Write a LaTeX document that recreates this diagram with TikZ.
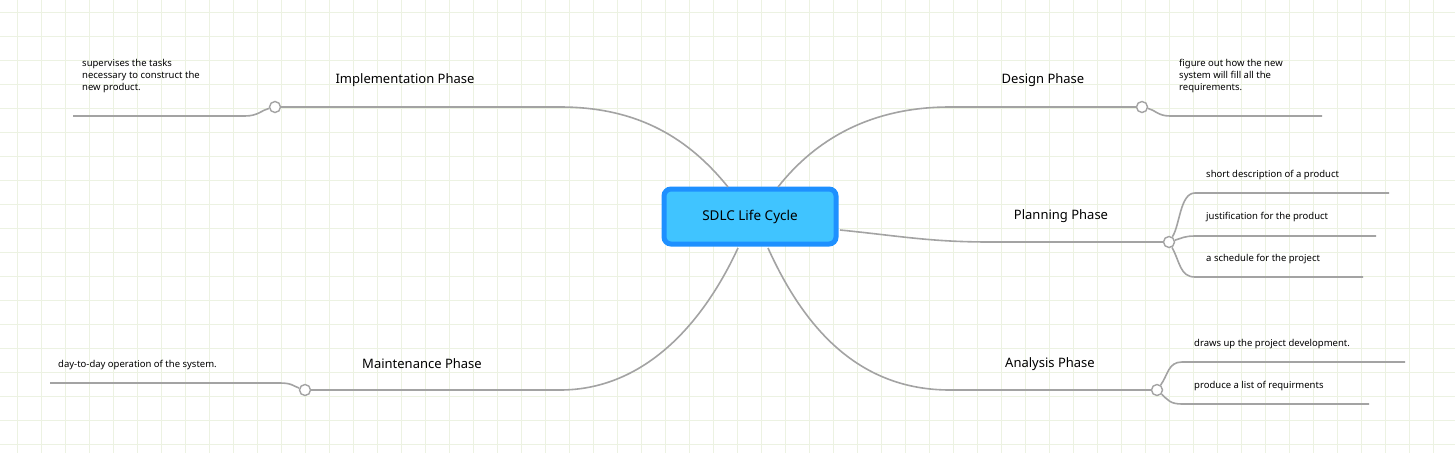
\documentclass[tikz,border=0pt]{standalone}
\usepackage{fontspec}
\setmainfont{Noto Sans}
\begin{document}
\begin{tikzpicture}[x=1pt,y=-1pt,
  conn/.style={draw=gray!80!black!60, line width=1.6pt},
  knob/.style={circle, draw=gray!80!black!60, line width=1.4pt, fill=white, inner sep=0pt, minimum size=11pt},
  phase/.style={font=\fontsize{13}{15}\selectfont\bfseries, anchor=center},
  leaf/.style={font=\fontsize{9.5}{12}\selectfont, anchor=west, align=left, inner sep=0pt}]
\useasboundingbox (0,0) rectangle (1455,453);
\fill[white] (0,0) rectangle (1455,453);
\foreach \x in {17,41,...,1455} \draw[color={rgb,255:red,236;green,242;blue,226}, line width=0.8pt] (\x,0) -- (\x,453);
\foreach \y in {12,36,...,453} \draw[color={rgb,255:red,236;green,242;blue,226}, line width=0.8pt] (0,\y) -- (1455,\y);

\node[draw={rgb,255:red,30;green,144;blue,255}, line width=5pt, fill={rgb,255:red,64;green,196;blue,255}, rounded corners=7pt, minimum width=172pt, minimum height=55pt, font=\fontsize{13.5}{16}\selectfont\bfseries] (c) at (750,216.5) {SDLC Life Cycle};

% Implementation
\node[knob] (ki) at (275,107) {};
\node[phase] (pi) at (405,80) {Implementation Phase};
\coordinate (ci) at (728,187);
\draw[conn] (ci) .. controls (690,140) and (640,107) .. (560,107) -- (ki);
\coordinate (li) at (245,116);
\draw[conn] (ki) .. controls (262,110) and (258,116) .. (li) -- (73,116);
\node[leaf, anchor=north west] (ti) at (82,59) {supervises the tasks\\necessary to construct the\\new product.};

% Design
\node[knob] (kd) at (1142,107) {};
\node[phase] (pd) at (1043,80) {Design Phase};
\coordinate (cd) at (778,187);
\draw[conn] (cd) .. controls (815,140) and (870,107) .. (950,107) -- (kd);
\coordinate (ld) at (1170,116);
\draw[conn] (kd) .. controls (1155,110) and (1158,116) .. (ld) -- (1322,116);
\node[leaf, anchor=north west] (td) at (1179,59) {figure out how the new\\system will fill all the\\requirements.};

% Planning
\node[knob] (kp) at (1169,242) {};
\node[phase] (pp) at (1061,216) {Planning Phase};
\coordinate (cp) at (840,230);
\draw[conn] (cp) .. controls (900,236) and (930,242) .. (990,242) -- (kp);
\coordinate (lp1) at (1195,193);
\coordinate (lp2) at (1195,236);
\coordinate (lp3) at (1195,277);
\draw[conn] (kp) .. controls (1180,225) and (1180,193) .. (lp1) -- (1389,193);
\draw[conn] (kp) .. controls (1182,238) and (1185,236) .. (lp2) -- (1376,236);
\draw[conn] (kp) .. controls (1180,262) and (1180,277) .. (lp3) -- (1363,277);
\node[leaf] (tp1) at (1206,175) {short description of a product};
\node[leaf] (tp2) at (1206,217) {justification for the product};
\node[leaf] (tp3) at (1206,259) {a schedule for the project};

% Analysis
\node[knob] (ka) at (1157,390) {};
\node[phase] (pa) at (1050,364) {Analysis Phase};
\coordinate (ca) at (768,248);
\draw[conn] (ca) .. controls (805,330) and (860,390) .. (950,390) -- (ka);
\coordinate (la1) at (1182,362);
\coordinate (la2) at (1182,404);
\draw[conn] (ka) .. controls (1168,375) and (1168,362) .. (la1) -- (1405,362);
\draw[conn] (ka) .. controls (1168,400) and (1170,404) .. (la2) -- (1369,404);
\node[leaf] (ta1) at (1194,344) {draws up the project development.};
\node[leaf] (ta2) at (1194,386) {produce a list of requirments};

% Maintenance
\node[knob] (km) at (305,390) {};
\node[phase] (pm) at (422,364) {Maintenance Phase};
\coordinate (cm) at (738,248);
\draw[conn] (cm) .. controls (700,330) and (640,390) .. (560,390) -- (km);
\coordinate (lm) at (280,383);
\draw[conn] (km) .. controls (293,386) and (292,383) .. (lm) -- (50,383);
\node[leaf] (tm) at (58,365) {day-to-day operation of the system.};
\end{tikzpicture}
\end{document}
